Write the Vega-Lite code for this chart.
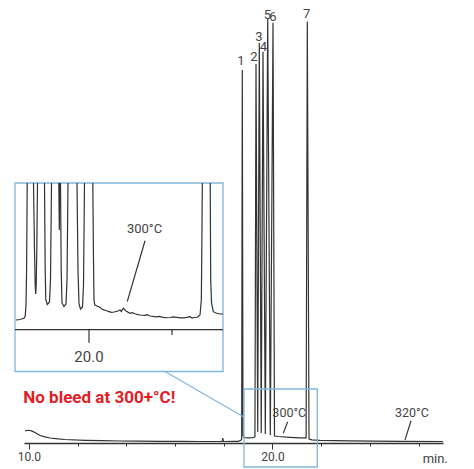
{
  "$schema": "https://vega.github.io/schema/vega-lite/v6.json",
  "width": 419,
  "height": 443,
  "autosize": {"type": "none"},
  "padding": {"left": 24, "top": 0, "right": 31, "bottom": 26},
  "background": "white",
  "config": {
    "view": {"stroke": null},
    "text": {"font": "Roboto", "color": "#444", "fontSize": 13}
  },
  "datasets": {
    "main": [
      {"t": 9.84, "s": 2.24}, {"t": 9.95, "s": 2.4}, {"t": 10.05, "s": 2.35},
      {"t": 10.15, "s": 2.15}, {"t": 10.25, "s": 1.9}, {"t": 10.46, "s": 1.21},
      {"t": 10.65, "s": 0.9}, {"t": 10.87, "s": 0.64}, {"t": 11.2, "s": 0.42},
      {"t": 11.48, "s": 0.3}, {"t": 12.3, "s": 0.12}, {"t": 13.0, "s": 0.02},
      {"t": 13.74, "s": -0.04}, {"t": 14.5, "s": -0.08}, {"t": 15.38, "s": -0.11},
      {"t": 16.2, "s": -0.13}, {"t": 17.02, "s": -0.16}, {"t": 17.93, "s": -0.16},
      {"t": 17.96, "s": 0.6}, {"t": 17.99, "s": -0.16}, {"t": 18.4, "s": -0.12},
      {"t": 18.6, "s": -0.11}, {"t": 18.7, "s": 0.1}, {"t": 18.735, "s": 0.4},
      {"t": 18.761, "s": 84.54}, {"t": 18.79, "s": 1.2}, {"t": 18.83, "s": 0.75},
      {"t": 19.0, "s": 0.65}, {"t": 19.2, "s": 0.7}, {"t": 19.28, "s": 0.9},
      {"t": 19.324, "s": 85.91}, {"t": 19.394, "s": 2.0}, {"t": 19.459, "s": 90.77},
      {"t": 19.538, "s": 1.8}, {"t": 19.611, "s": 88.72}, {"t": 19.706, "s": 1.55},
      {"t": 19.804, "s": 96.33}, {"t": 19.911, "s": 1.32}, {"t": 20.022, "s": 95.33},
      {"t": 20.083, "s": 1.1}, {"t": 20.23, "s": 0.98}, {"t": 20.72, "s": 0.8},
      {"t": 21.13, "s": 0.69}, {"t": 21.38, "s": 0.66}, {"t": 21.43, "s": 95.56},
      {"t": 21.5, "s": 0.41}, {"t": 21.62, "s": 0.23}, {"t": 21.95, "s": 0.12},
      {"t": 23.18, "s": 0.0}, {"t": 25.24, "s": -0.11}, {"t": 27.0, "s": -0.16}
    ],
    "peaks": [
      {"t": 18.708, "s": 85.68, "label": "1"},
      {"t": 19.242, "s": 86.66, "label": "2"},
      {"t": 19.44, "s": 91.22, "label": "3"},
      {"t": 19.63, "s": 88.94, "label": "4"},
      {"t": 19.79, "s": 96.17, "label": "5"},
      {"t": 20.02, "s": 95.78, "label": "6"},
      {"t": 21.405, "s": 96.33, "label": "7"}
    ],
    "inset": [
      {"seg": 0, "t": 19.1206, "s": 0.625}, {"seg": 0, "t": 19.1688, "s": 0.66},
      {"seg": 0, "t": 19.217, "s": 0.743}, {"seg": 0, "t": 19.2315, "s": 0.903},
      {"seg": 0, "t": 19.2411, "s": 1.667}, {"seg": 0, "t": 19.2483, "s": 4.097},
      {"seg": 0, "t": 19.2556, "s": 10.139},
      {"seg": 1, "t": 19.3315, "s": 10.139}, {"seg": 1, "t": 19.3435, "s": 5.486},
      {"seg": 1, "t": 19.3519, "s": 3.056}, {"seg": 1, "t": 19.358, "s": 2.431},
      {"seg": 1, "t": 19.364, "s": 3.056}, {"seg": 1, "t": 19.3712, "s": 5.486},
      {"seg": 1, "t": 19.3797, "s": 10.139},
      {"seg": 2, "t": 19.464, "s": 10.139}, {"seg": 2, "t": 19.4724, "s": 4.097},
      {"seg": 2, "t": 19.4796, "s": 2.014}, {"seg": 2, "t": 19.4977, "s": 1.701},
      {"seg": 2, "t": 19.5242, "s": 1.875}, {"seg": 2, "t": 19.5363, "s": 3.403},
      {"seg": 2, "t": 19.5483, "s": 10.139},
      {"seg": 3, "t": 19.6363, "s": 10.139}, {"seg": 3, "t": 19.6423, "s": 6.875},
      {"seg": 3, "t": 19.6483, "s": 10.139},
      {"seg": 4, "t": 19.6567, "s": 10.139}, {"seg": 4, "t": 19.6652, "s": 4.097},
      {"seg": 4, "t": 19.6748, "s": 1.806}, {"seg": 4, "t": 19.6989, "s": 1.563},
      {"seg": 4, "t": 19.723, "s": 1.736}, {"seg": 4, "t": 19.7351, "s": 3.403},
      {"seg": 4, "t": 19.7471, "s": 10.139},
      {"seg": 5, "t": 19.8556, "s": 10.139}, {"seg": 5, "t": 19.8676, "s": 4.097},
      {"seg": 5, "t": 19.8797, "s": 1.736}, {"seg": 5, "t": 19.8977, "s": 1.389},
      {"seg": 5, "t": 19.9218, "s": 1.528}, {"seg": 5, "t": 19.9339, "s": 3.056},
      {"seg": 5, "t": 19.9459, "s": 10.139},
      {"seg": 6, "t": 20.0459, "s": 10.139}, {"seg": 6, "t": 20.0543, "s": 4.792},
      {"seg": 6, "t": 20.0604, "s": 2.014}, {"seg": 6, "t": 20.07, "s": 1.667},
      {"seg": 6, "t": 20.0965, "s": 1.597}, {"seg": 6, "t": 20.1206, "s": 1.549},
      {"seg": 6, "t": 20.1604, "s": 1.368}, {"seg": 6, "t": 20.18, "s": 1.33},
      {"seg": 6, "t": 20.205, "s": 1.285}, {"seg": 6, "t": 20.2411, "s": 1.201},
      {"seg": 6, "t": 20.27, "s": 1.16}, {"seg": 6, "t": 20.3014, "s": 1.181},
      {"seg": 6, "t": 20.3496, "s": 1.25}, {"seg": 6, "t": 20.3737, "s": 1.319},
      {"seg": 6, "t": 20.39, "s": 1.22}, {"seg": 6, "t": 20.4135, "s": 1.438},
      {"seg": 6, "t": 20.446, "s": 1.25}, {"seg": 6, "t": 20.4942, "s": 1.09},
      {"seg": 6, "t": 20.52, "s": 1.13}, {"seg": 6, "t": 20.5545, "s": 1.056},
      {"seg": 6, "t": 20.58, "s": 1.01}, {"seg": 6, "t": 20.6145, "s": 0.972},
      {"seg": 6, "t": 20.6748, "s": 0.951}, {"seg": 6, "t": 20.7, "s": 0.99},
      {"seg": 6, "t": 20.7351, "s": 0.903}, {"seg": 6, "t": 20.8074, "s": 0.847},
      {"seg": 6, "t": 20.85, "s": 0.87}, {"seg": 6, "t": 20.8917, "s": 0.813},
      {"seg": 6, "t": 20.93, "s": 0.78}, {"seg": 6, "t": 20.976, "s": 0.799},
      {"seg": 6, "t": 21.02, "s": 0.84}, {"seg": 6, "t": 21.0568, "s": 0.813},
      {"seg": 6, "t": 21.1, "s": 0.77}, {"seg": 6, "t": 21.1328, "s": 0.778},
      {"seg": 6, "t": 21.18, "s": 0.81}, {"seg": 6, "t": 21.217, "s": 0.854},
      {"seg": 6, "t": 21.24, "s": 0.76}, {"seg": 6, "t": 21.2653, "s": 0.799},
      {"seg": 6, "t": 21.3051, "s": 0.813}, {"seg": 6, "t": 21.3376, "s": 0.972},
      {"seg": 6, "t": 21.3533, "s": 2.014}, {"seg": 6, "t": 21.3593, "s": 5.486},
      {"seg": 6, "t": 21.3653, "s": 10.139},
      {"seg": 7, "t": 21.4605, "s": 10.139}, {"seg": 7, "t": 21.4665, "s": 3.403},
      {"seg": 7, "t": 21.4761, "s": 1.806}, {"seg": 7, "t": 21.4978, "s": 1.201},
      {"seg": 7, "t": 21.5303, "s": 1.111}, {"seg": 7, "t": 21.5785, "s": 1.042},
      {"seg": 7, "t": 21.6147, "s": 1.042}
    ]
  },
  "layer": [
    {
      "layer": [
        {
          "data": {"name": "main"},
          "mark": {"type": "line", "color": "#333", "strokeWidth": 1.2},
          "encoding": {
            "x": {
              "field": "t", "type": "quantitative",
              "scale": {"domain": [9.8, 27.0], "nice": false, "zero": false},
              "axis": {
                "title": null,
                "grid": false,
                "values": [10, 11, 12, 13, 14, 15, 16, 17, 18, 19, 20, 21, 22, 23, 24, 25, 26],
                "labelExpr": "datum.value == 10 || datum.value == 20 ? format(datum.value, '.1f') : ''",
                "tickSize": {"condition": {"test": "datum.value == 10 || datum.value == 20", "value": 6}, "value": 3},
                "labelFont": "Roboto",
                "labelFontSize": 12,
                "labelColor": "#444",
                "labelPadding": 2,
                "labelOverlap": false,
                "labelFlush": false,
                "domainColor": "#333",
                "domainWidth": 1.3,
                "tickColor": "#333",
                "tickWidth": 1
              }
            },
            "y": {
              "field": "s", "type": "quantitative",
              "scale": {"domain": [-0.5, 100.5], "nice": false, "zero": false},
              "axis": null
            }
          }
        },
        {
          "data": {"name": "peaks"},
          "mark": {"type": "text", "baseline": "alphabetic", "align": "center", "fontSize": 13},
          "encoding": {
            "x": {"field": "t", "type": "quantitative", "title": null},
            "y": {"field": "s", "type": "quantitative", "axis": null},
            "text": {"field": "label"}
          }
        },
        {
          "data": {"values": [{"t": 18.831, "t2": 21.84, "s": 11.81, "s2": -5.97}]},
          "mark": {"type": "rect", "filled": false, "stroke": "#80b8e0", "strokeWidth": 1.3},
          "encoding": {
            "x": {"field": "t", "type": "quantitative", "title": null},
            "x2": {"field": "t2"},
            "y": {"field": "s", "type": "quantitative", "axis": null},
            "y2": {"field": "s2"}
          }
        },
        {
          "data": {"values": [{"t": 15.588, "t2": 18.802, "s": 15.8, "s2": 5.5}]},
          "mark": {"type": "rule", "color": "#80b8e0", "strokeWidth": 1.2},
          "encoding": {
            "x": {"field": "t", "type": "quantitative", "title": null},
            "x2": {"field": "t2"},
            "y": {"field": "s", "type": "quantitative", "axis": null},
            "y2": {"field": "s2"}
          }
        },
        {
          "data": {"values": [
            {"t": 20.625, "t2": 20.444, "s": 4.36, "s2": 1.71},
            {"t": 25.687, "t2": 25.44, "s": 4.58, "s2": 0.18}
          ]},
          "mark": {"type": "rule", "color": "#333", "strokeWidth": 1.1},
          "encoding": {
            "x": {"field": "t", "type": "quantitative", "title": null},
            "x2": {"field": "t2"},
            "y": {"field": "s", "type": "quantitative", "axis": null},
            "y2": {"field": "s2"}
          }
        },
        {
          "data": {"values": [
            {"t": 20.691, "s": 5.5, "label": "300°C"},
            {"t": 25.72, "s": 5.36, "label": "320°C"}
          ]},
          "mark": {"type": "text", "baseline": "alphabetic", "align": "center", "fontSize": 12.5, "letterSpacing": -0.4},
          "encoding": {
            "x": {"field": "t", "type": "quantitative", "title": null},
            "y": {"field": "s", "type": "quantitative", "axis": null},
            "text": {"field": "label"}
          }
        },
        {
          "data": {"values": [{"t": 26.68, "s": -4.99, "label": "min."}]},
          "mark": {"type": "text", "baseline": "alphabetic", "align": "center", "fontSize": 13},
          "encoding": {
            "x": {"field": "t", "type": "quantitative", "title": null},
            "y": {"field": "s", "type": "quantitative", "axis": null},
            "text": {"field": "label"}
          }
        },
        {
          "data": {"values": [{"t": 9.771, "s": 8.73, "label": "No bleed at 300+°C!"}]},
          "mark": {"type": "text", "baseline": "alphabetic", "align": "left", "fontSize": 17, "fontWeight": "bold", "color": "#e41e26"},
          "encoding": {
            "x": {"field": "t", "type": "quantitative", "title": null},
            "y": {"field": "s", "type": "quantitative", "axis": null},
            "text": {"field": "label"}
          }
        }
      ]
    },
    {
      "layer": [
        {
          "data": {"values": [{"t": 19.1086, "t2": 21.6147, "s": 10.139, "s2": -2.951}]},
          "mark": {"type": "rect", "fill": "white", "stroke": "#80b8e0", "strokeWidth": 1.3},
          "encoding": {
            "x": {"field": "t", "type": "quantitative", "axis": null,
                  "scale": {"domain": [19.217, 24.265], "nice": false, "zero": false}},
            "x2": {"field": "t2"},
            "y": {"field": "s", "type": "quantitative", "axis": null,
                  "scale": {"domain": [-7.917, 22.847], "nice": false, "zero": false}},
            "y2": {"field": "s2"}
          }
        },
        {
          "data": {"name": "inset"},
          "mark": {"type": "line", "color": "#333", "strokeWidth": 1.2},
          "encoding": {
            "x": {"field": "t", "type": "quantitative", "axis": null},
            "y": {"field": "s", "type": "quantitative", "axis": null},
            "detail": {"field": "seg"}
          }
        },
        {
          "data": {"values": [
            {"t": 19.1086, "t2": 21.6147, "s": -0.05, "s2": -0.05},
            {"t": 20.0, "t2": 20.0, "s": -0.05, "s2": -0.95},
            {"t": 21.0, "t2": 21.0, "s": -0.05, "s2": -0.42},
            {"t": 20.675, "t2": 20.461, "s": 6.13, "s2": 1.9}
          ]},
          "mark": {"type": "rule", "color": "#333", "strokeWidth": 1.2},
          "encoding": {
            "x": {"field": "t", "type": "quantitative", "axis": null},
            "x2": {"field": "t2"},
            "y": {"field": "s", "type": "quantitative", "axis": null},
            "y2": {"field": "s2"}
          }
        },
        {
          "data": {"values": [{"t": 20.669, "s": 6.69, "label": "300°C"}]},
          "mark": {"type": "text", "baseline": "alphabetic", "align": "center", "fontSize": 13, "letterSpacing": -0.4},
          "encoding": {
            "x": {"field": "t", "type": "quantitative", "axis": null},
            "y": {"field": "s", "type": "quantitative", "axis": null},
            "text": {"field": "label"}
          }
        },
        {
          "data": {"values": [{"t": 20.0, "s": -2.27, "label": "20.0"}]},
          "mark": {"type": "text", "baseline": "alphabetic", "align": "center", "fontSize": 15},
          "encoding": {
            "x": {"field": "t", "type": "quantitative", "axis": null},
            "y": {"field": "s", "type": "quantitative", "axis": null},
            "text": {"field": "label"}
          }
        }
      ]
    }
  ],
  "resolve": {
    "scale": {"x": "independent", "y": "independent"},
    "axis": {"x": "independent", "y": "independent"}
  }
}
